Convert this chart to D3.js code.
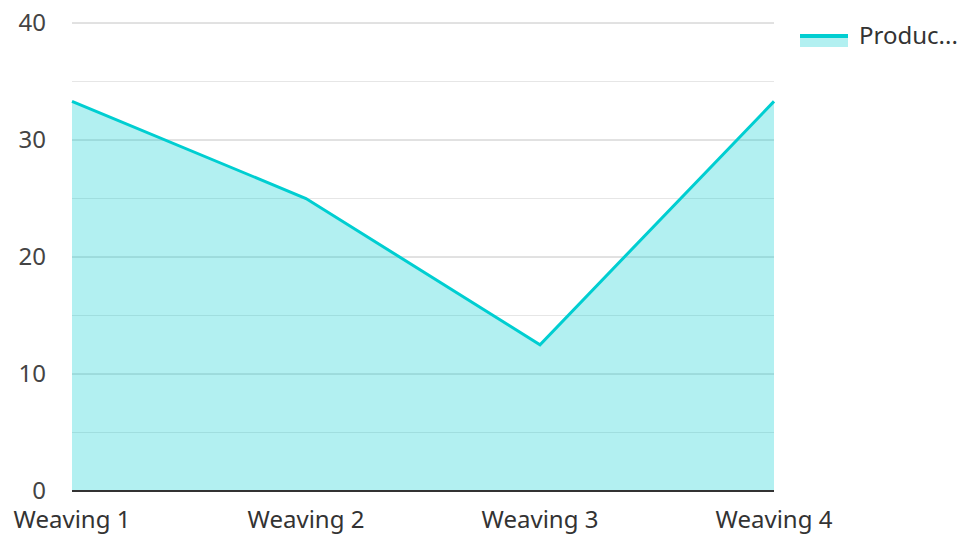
<!DOCTYPE html>
<html>
<head>
<meta charset="utf-8">
<script src="https://cdn.jsdelivr.net/npm/d3@7"></script>
<style>
  body { margin: 0; background: #fff; }
  svg { display: block; font-family: "Noto Sans", "Open Sans", sans-serif; }
</style>
</head>
<body>
<svg id="chart" width="961" height="534"></svg>
<script>
// data
const categories = ["Weaving 1", "Weaving 2", "Weaving 3", "Weaving 4"];
const production = [33.3, 25, 12.5, 33.3];
const seriesName = "Produc...";
const yTicks = [0, 10, 20, 30, 40];
const yMinorTicks = [5, 15, 25, 35];

const svg = d3.select("#chart");
const width = 961, height = 534;
const margin = { top: 23, right: 187, bottom: 43, left: 72 };
const w = width - margin.left - margin.right;
const h = height - margin.top - margin.bottom;
const color = "#00ced1";

const g = svg.append("g")
  .attr("transform", `translate(${margin.left},${margin.top})`);

const x = d3.scalePoint()
  .domain(categories)
  .range([0, w]);

const y = d3.scaleLinear()
  .domain([0, 40])
  .range([h, 0]);

// grid lines
g.append("g")
  .selectAll("line")
  .data(yMinorTicks)
  .join("line")
    .attr("x1", 0).attr("x2", w)
    .attr("y1", d => y(d)).attr("y2", d => y(d))
    .attr("stroke", "#e6e6e6")
    .attr("stroke-width", 1);

g.append("g")
  .selectAll("line")
  .data(yTicks.filter(d => d > 0))
  .join("line")
    .attr("x1", 0).attr("x2", w)
    .attr("y1", d => y(d)).attr("y2", d => y(d))
    .attr("stroke", "#c4c4c4")
    .attr("stroke-width", 1);

const pts = categories.map((c, i) => [x(c), y(production[i])]);

// area + line
g.append("path")
  .datum(pts)
  .attr("fill", color)
  .attr("fill-opacity", 0.3)
  .attr("d", d3.area().x(d => d[0]).y0(y(0)).y1(d => d[1]));

g.append("path")
  .datum(pts)
  .attr("fill", "none")
  .attr("stroke", color)
  .attr("stroke-width", 3)
  .attr("d", d3.line());

// baseline
g.append("line")
  .attr("x1", 0).attr("x2", w)
  .attr("y1", y(0)).attr("y2", y(0))
  .attr("stroke", "#333")
  .attr("stroke-width", 2);

// y labels
g.append("g")
  .selectAll("text")
  .data(yTicks)
  .join("text")
    .attr("x", -26)
    .attr("y", d => y(d))
    .attr("dy", "0.35em")
    .attr("text-anchor", "end")
    .attr("fill", "#444")
    .attr("font-size", "24px")
    .text(d => d);

// x labels
g.append("g")
  .selectAll("text")
  .data(categories)
  .join("text")
    .attr("x", d => x(d))
    .attr("y", h + 37)
    .attr("text-anchor", "middle")
    .attr("fill", "#333")
    .attr("font-size", "24px")
    .text(d => d);

// legend
const legend = svg.append("g")
  .attr("transform", "translate(800,36)");

legend.append("rect")
  .attr("x", 0).attr("y", 0)
  .attr("width", 48).attr("height", 11)
  .attr("fill", color)
  .attr("fill-opacity", 0.3);

legend.append("line")
  .attr("x1", 0).attr("x2", 48)
  .attr("y1", 0).attr("y2", 0)
  .attr("stroke", color)
  .attr("stroke-width", 4);

legend.append("text")
  .attr("x", 59)
  .attr("y", 0)
  .attr("dy", "0.35em")
  .attr("fill", "#333")
  .attr("font-size", "24px")
  .text(seriesName);
</script>
</body>
</html>
